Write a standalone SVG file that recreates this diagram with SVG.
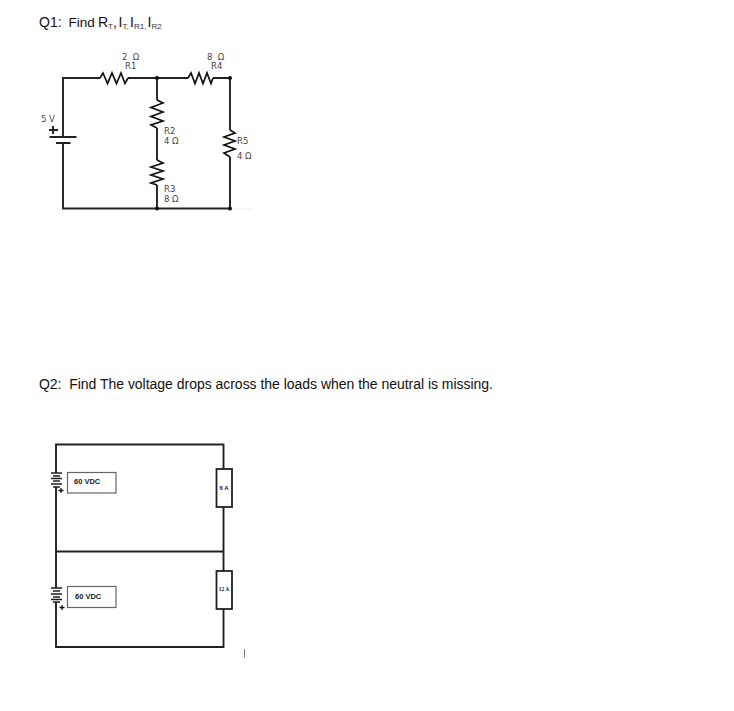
<svg xmlns="http://www.w3.org/2000/svg" width="734" height="711" viewBox="0 0 734 711">
<defs>
<style>
.w{fill:none;stroke:#222;stroke-width:1.9}
.z{fill:none;stroke:#111;stroke-width:1.7;stroke-linejoin:miter}
.q{font-family:"Liberation Sans",Arial,sans-serif;fill:#111;font-size:14px}
.s{font-size:8px;fill:#333}
.l{font-family:"DejaVu Sans",sans-serif;fill:#444;font-size:8.500px;font-weight:500}
.b{font-family:"Liberation Sans",Arial,sans-serif;fill:#222;font-size:7.500px;font-weight:bold}
.d{fill:#111}
.box{fill:#fff;stroke:#666;stroke-width:1.2}
.load{fill:#fff;stroke:#222;stroke-width:1.8}
.bat{stroke:#222;stroke-width:1.4;fill:none}
.p{stroke:#111;stroke-width:1.300;fill:none}
</style>
</defs>
<rect width="734" height="711" fill="#fff"/>
<g id="q1-title"><text class="q" x="39" y="27" xml:space="preserve">Q1:  <tspan x="68.500" font-size="13.500">Find </tspan><tspan x="98">R</tspan><tspan class="s" x="108" y="29">T</tspan><tspan x="113" y="27">,</tspan><tspan x="118.500">I</tspan><tspan class="s" x="122.500" y="29">T,</tspan><tspan x="130" y="27">I</tspan><tspan class="s" x="134" y="29">R1,</tspan><tspan x="147.500" y="27">I</tspan><tspan class="s" x="151.500" y="29">R2</tspan></text></g>
<g id="connectors1">
<path class="w" d="M100 78H63V137M63 143V208.500H230V157M128 78H188M213 78H230V130M157 78V100M157 128V160M157 185V208.500"/>
<path d="M230 209H253" stroke="#eee" stroke-width="1" fill="none"/>
<circle class="d" cx="157" cy="78" r="2"/><circle class="d" cx="230" cy="78" r="2"/><circle class="d" cx="157" cy="208.500" r="2"/><circle class="d" cx="230" cy="208.500" r="2"/>
</g>
<g id="V1"><path class="w" d="M49.500 137H76.500M56 143H70.500M53 126V134M49 130H58"/><text class="l" x="41" y="122">5 V</text></g>
<g id="R1"><path class="z" d="M100 78L103 73L107.500 83.500L112 73L116.500 83.500L121 73L125 83.500L128 78"/><text class="l" xml:space="preserve" x="122" y="60">2  Ω</text><text class="l" x="125" y="69">R1</text></g>
<g id="R4"><path class="z" d="M188 78L191 73L195 83.500L199 73L203 83.500L207 73L211 83.500L213 78"/><text class="l" xml:space="preserve" x="207" y="60">8  Ω</text><text class="l" x="211" y="69">R4</text></g>
<g id="R2"><path class="z" d="M157 100L163 103L151 107.500L163 112L151 116.500L163 121L151 125L157 128"/><text class="l" x="164" y="134">R2</text><text class="l" x="164" y="144">4 Ω</text></g>
<g id="R3"><path class="z" d="M157 160L163 163L151 167L163 171L151 175L163 179L151 183L157 185"/><text class="l" x="164" y="192">R3</text><text class="l" x="164" y="202">8 Ω</text></g>
<g id="R5"><path class="z" d="M230 130L235 133L224 137L235 141L224 145L235 149L224 153L230 157"/><text class="l" x="237" y="144">R5</text><text class="l" x="237" y="159">4 Ω</text></g>
<g id="q2-title"><text class="q" x="39" y="389" xml:space="preserve" textLength="454">Q2:  Find The voltage drops across the loads when the neutral is missing.</text></g>
<g id="connectors2">
<path class="w" d="M56 473V444.500H223.500V469M56 487V588M56 602V647H223.500V609M56 551.500H223.500M223.500 507V571"/>
</g>
<g id="B1"><path class="bat" d="M51 473H62M53 476H60M51 478.500H62M53 481H60M51 484H62M53 487H60"/><path class="p" d="M61 488V493M58.500 490.500H63.500"/></g>
<g id="S1"><rect class="box" x="67.500" y="472.500" width="48.500" height="20.500"/><text class="b" x="74" y="484">60 VDC</text></g>
<g id="B2"><path class="bat" d="M51 588H62M53 591H60M51 594H62M53 597H60M51 599.500H62M53 602H60"/><path class="p" d="M62 605V610M59.500 607.500H64.500"/></g>
<g id="S2"><rect class="box" x="67.500" y="586.500" width="48.500" height="21"/><text class="b" x="75" y="599">60 VDC</text></g>
<g id="L1"><rect class="load" x="216.500" y="469" width="15.500" height="38"/><text class="b" x="224" y="490" text-anchor="middle" style="font-size:6px">6 A</text></g>
<g id="L2"><rect class="load" x="216.500" y="571" width="15.500" height="38"/><text class="b" x="224" y="591" text-anchor="middle" style="font-size:5.500px;font-family:'Liberation Serif',serif">12 A</text></g>
<g id="cursor"><path d="M244.500 649V657.500" stroke="#777" stroke-width="1" fill="none"/></g>
</svg>
